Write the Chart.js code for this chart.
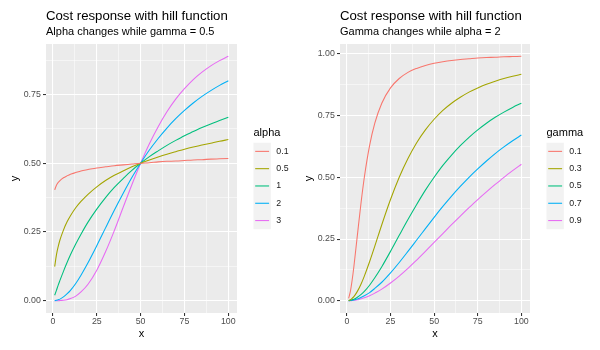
<!DOCTYPE html>
<html>
<head>
<meta charset="utf-8">
<title>Cost response with hill function</title>
<script src="https://cdn.jsdelivr.net/npm/chart.js@4"></script>
<style>
  html, body { margin: 0; padding: 0; background: #fff; }
  .panel { position: absolute; top: 0; width: 300px; height: 350px; }
  #left { left: 0; }
  #right { left: 300px; }
</style>
</head>
<body>
<div class="panel" id="left"><canvas id="chartAlpha" width="300" height="350"></canvas></div>
<div class="panel" id="right"><canvas id="chartGamma" width="300" height="350"></canvas></div>
<script>
// ─── Data ────────────────────────────────────────────────
const xs = [1, 2, 3, 4, 6, 8, 10, 13, 16, 20, 25, 30, 35, 40, 45, 50, 55, 60, 65, 70, 75, 80, 85, 90, 95, 100];

// left panel: gamma = 0.5, alpha varies
const alphaLabels = ['0.1', '0.5', '1', '2', '3'];
const alpha01 = [0.403, 0.420, 0.430, 0.437, 0.447, 0.454, 0.460, 0.466, 0.472, 0.477, 0.483, 0.487, 0.491, 0.494, 0.497, 0.500, 0.502, 0.505, 0.507, 0.508, 0.510, 0.512, 0.513, 0.515, 0.516, 0.517];
const alpha05 = [0.124, 0.167, 0.197, 0.221, 0.257, 0.286, 0.309, 0.338, 0.361, 0.387, 0.414, 0.437, 0.456, 0.472, 0.487, 0.500, 0.512, 0.523, 0.533, 0.542, 0.551, 0.559, 0.566, 0.573, 0.580, 0.586];
const alpha1 = [0.020, 0.038, 0.057, 0.074, 0.107, 0.138, 0.167, 0.206, 0.242, 0.286, 0.333, 0.375, 0.412, 0.444, 0.474, 0.500, 0.524, 0.545, 0.565, 0.583, 0.600, 0.615, 0.630, 0.643, 0.655, 0.667];
const alpha2 = [0.000, 0.002, 0.004, 0.006, 0.014, 0.025, 0.038, 0.063, 0.093, 0.138, 0.200, 0.265, 0.329, 0.390, 0.448, 0.500, 0.548, 0.590, 0.628, 0.662, 0.692, 0.719, 0.743, 0.764, 0.783, 0.800];
const alpha3 = [0.000, 0.000, 0.000, 0.001, 0.002, 0.004, 0.008, 0.017, 0.032, 0.060, 0.111, 0.178, 0.255, 0.339, 0.422, 0.500, 0.571, 0.633, 0.687, 0.733, 0.771, 0.804, 0.831, 0.854, 0.873, 0.889];

// right panel: alpha = 2, gamma varies
const gammaLabels = ['0.1', '0.3', '0.5', '0.7', '0.9'];
const gamma01 = [0.010, 0.038, 0.083, 0.138, 0.265, 0.390, 0.500, 0.628, 0.719, 0.800, 0.862, 0.900, 0.925, 0.941, 0.953, 0.962, 0.968, 0.973, 0.977, 0.980, 0.983, 0.985, 0.986, 0.988, 0.989, 0.990];
const gamma03 = [0.001, 0.004, 0.010, 0.017, 0.038, 0.066, 0.100, 0.158, 0.221, 0.308, 0.410, 0.500, 0.576, 0.640, 0.692, 0.735, 0.771, 0.800, 0.824, 0.845, 0.862, 0.877, 0.889, 0.900, 0.909, 0.917];
const gamma05 = [0.000, 0.002, 0.004, 0.006, 0.014, 0.025, 0.038, 0.063, 0.093, 0.138, 0.200, 0.265, 0.329, 0.390, 0.448, 0.500, 0.548, 0.590, 0.628, 0.662, 0.692, 0.719, 0.743, 0.764, 0.783, 0.800];
const gamma07 = [0.000, 0.001, 0.002, 0.003, 0.007, 0.013, 0.020, 0.033, 0.050, 0.075, 0.113, 0.155, 0.200, 0.246, 0.292, 0.338, 0.382, 0.424, 0.463, 0.500, 0.534, 0.566, 0.596, 0.623, 0.648, 0.671];
const gamma09 = [0.000, 0.000, 0.001, 0.002, 0.004, 0.008, 0.012, 0.020, 0.031, 0.047, 0.072, 0.100, 0.131, 0.165, 0.200, 0.236, 0.272, 0.308, 0.343, 0.377, 0.410, 0.441, 0.471, 0.500, 0.527, 0.553];

// axis ticks
const xMajor = [0, 25, 50, 75, 100];
const xMinor = [12.5, 37.5, 62.5, 87.5];
const yMajorAlpha = [0, 0.25, 0.5, 0.75];
const yMajorGamma = [0, 0.25, 0.5, 0.75, 1];
const yMinor = [0.125, 0.375, 0.625, 0.875];

// ggplot hue palette
const colors = ['#F8766D', '#A3A500', '#00BF7D', '#00B0F6', '#E76BF3'];

// ─── Plugins ─────────────────────────────────────────────
const FONT = '"Liberation Sans", Arial, Helvetica, sans-serif';
Chart.defaults.font.family = FONT;

const ggPanel = {
  id: 'ggPanel',
  beforeDraw(chart) {
    const { ctx, chartArea: a } = chart;
    ctx.save();
    ctx.fillStyle = '#EBEBEB';
    ctx.fillRect(a.left, a.top, a.right - a.left, a.bottom - a.top);
    ctx.restore();
  }
};

const ggLegend = {
  id: 'ggLegend',
  afterDraw(chart, args, opts) {
    const { ctx, chartArea: a } = chart;
    const sets = chart.data.datasets;
    const key = 17.3;
    const x0 = a.right + 16.5;
    const top = (a.top + a.bottom) / 2 - 35.8;
    ctx.save();
    ctx.textAlign = 'left';
    ctx.font = '11px ' + FONT;
    ctx.fillStyle = '#000';
    ctx.textBaseline = 'alphabetic';
    ctx.fillText(opts.title, x0, top - 6.5);
    ctx.fillStyle = '#F2F2F2';
    ctx.fillRect(x0, top, key, key * sets.length);
    ctx.font = '8.8px ' + FONT;
    ctx.textBaseline = 'middle';
    sets.forEach((ds, i) => {
      const cy = top + key * i + key / 2;
      ctx.strokeStyle = ds.borderColor;
      ctx.lineWidth = 1.07;
      ctx.beginPath();
      ctx.moveTo(x0 + 1.7, cy);
      ctx.lineTo(x0 + key - 1.7, cy);
      ctx.stroke();
      ctx.fillStyle = '#1A1A1A';
      ctx.fillText(ds.label, x0 + key + 5.5, cy);
    });
    ctx.restore();
  }
};

// ─── Chart builder ───────────────────────────────────────
function gridOpts(major) {
  const isMajor = c => c.tick && major.includes(c.tick.value);
  return {
    color: '#FFFFFF',
    lineWidth: c => isMajor(c) ? 1.07 : 0.53,
    drawTicks: true,
    tickLength: 3,
    tickWidth: 1.07,
    tickColor: c => isMajor(c) ? '#333333' : 'rgba(0,0,0,0)'
  };
}

function makeChart(id, cfg) {
  const datasets = cfg.series.map((ys, i) => ({
    label: cfg.labels[i],
    data: xs.map((x, j) => ({ x, y: ys[j] })),
    borderColor: colors[i],
    borderWidth: 1.07,
    pointRadius: 0,
    fill: false,
    cubicInterpolationMode: 'monotone'
  }));

  return new Chart(document.getElementById(id), {
    type: 'line',
    data: { datasets },
    options: {
      responsive: false,
      animation: false,
      events: [],
      layout: { padding: { left: 0, right: cfg.padRight, top: 0, bottom: 0 } },
      plugins: {
        legend: { display: false },
        tooltip: { enabled: false },
        title: {
          display: true, text: 'Cost response with hill function', align: 'start', fullSize: false,
          color: '#000', font: { size: 13.2, weight: 'normal' }, padding: { top: 8.8, bottom: 0 }
        },
        subtitle: {
          display: true, text: cfg.subtitle, align: 'start', fullSize: false,
          color: '#000', font: { size: 11, weight: 'normal' }, padding: { top: 1, bottom: 5.2 }
        },
        ggLegend: { title: cfg.legendTitle }
      },
      scales: {
        x: {
          type: 'linear', bounds: 'data',
          min: -3.95, max: 104.95,
          afterBuildTicks: s => { s.ticks = xMajor.concat(xMinor).sort((a, b) => a - b).map(v => ({ value: v })); },
          afterFit: s => { s.height = 37; },
          ticks: {
            autoSkip: false, maxRotation: 0, padding: 0.5, color: '#4D4D4D', font: { size: 8.8 },
            callback: v => xMajor.includes(v) ? String(v) : ''
          },
          grid: gridOpts(xMajor),
          border: { display: false },
          title: { display: true, text: 'x', color: '#000', font: { size: 11 }, padding: { top: 0, bottom: 9.4 } }
        },
        y: {
          type: 'linear', bounds: 'data',
          min: cfg.yMin, max: cfg.yMax,
          afterBuildTicks: s => { s.ticks = cfg.yMajor.concat(yMinor).sort((a, b) => a - b).map(v => ({ value: v })); },
          afterFit: s => { s.width = cfg.axisWidth; },
          ticks: {
            autoSkip: false, padding: 2.2, color: '#4D4D4D', font: { size: 8.8 },
            callback: v => cfg.yMajor.includes(v) ? v.toFixed(2) : ''
          },
          grid: gridOpts(cfg.yMajor),
          border: { display: false },
          title: { display: true, text: 'y', color: '#000', font: { size: 11 }, padding: { top: cfg.yTitlePad, bottom: 0 } }
        }
      }
    },
    plugins: [ggPanel, ggLegend]
  });
}

makeChart('chartAlpha', {
  subtitle: 'Alpha changes while gamma = 0.5',
  legendTitle: 'alpha',
  labels: alphaLabels,
  series: [alpha01, alpha05, alpha1, alpha2, alpha3],
  yMin: -0.0444, yMax: 0.9333, yMajor: yMajorAlpha,
  axisWidth: 46, padRight: 63, yTitlePad: 8
});

makeChart('chartGamma', {
  subtitle: 'Gamma changes while alpha = 2',
  legendTitle: 'gamma',
  labels: gammaLabels,
  series: [gamma01, gamma03, gamma05, gamma07, gamma09],
  yMin: -0.0495, yMax: 1.0396, yMajor: yMajorGamma,
  axisWidth: 40, padRight: 70, yTitlePad: 2.6
});
</script>
</body>
</html>
